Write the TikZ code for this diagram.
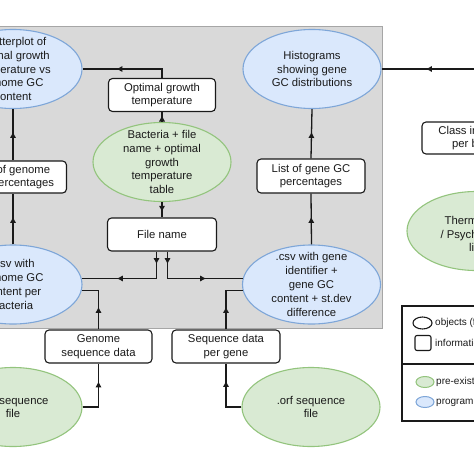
\documentclass[tikz,border=0pt]{standalone}
\usepackage{fontspec}
\setmainfont{Liberation Sans}
\usetikzlibrary{shapes.geometric,decorations.markings,arrows.meta}
\definecolor{bfill}{HTML}{DAE8FC}
\definecolor{bdraw}{HTML}{7EA6D8}
\definecolor{gfill}{HTML}{D9EAD3}
\definecolor{gdraw}{HTML}{93C47D}
\definecolor{grayfill}{HTML}{D9D9D9}
\definecolor{graydraw}{HTML}{A6A6A6}
\definecolor{ink}{HTML}{1A1A1A}
\begin{document}
\begin{tikzpicture}[x=1pt,y=-1pt,
  font=\fontsize{11.3}{13.8}\selectfont,
  ell/.style={ellipse, minimum width=138pt, minimum height=79pt, inner sep=0pt, line width=1.1pt},
  bell/.style={ell, draw=bdraw, fill=bfill},
  gell/.style={ell, draw=gdraw, fill=gfill},
  txt/.style={align=center, text=ink, inner sep=0pt},
  infobox/.style={draw=ink, fill=white, rounded corners=4pt, line width=1.1pt, minimum width=107pt, minimum height=33pt, align=center, text=ink, inner sep=0pt},
  conn/.style={draw=ink, line width=1.3pt},
  tipat/.style={postaction={decorate}, decoration={markings, mark=at position #1 with {\arrow{Triangle[length=5.5pt,width=5.5pt]}}}},
  tiptwo/.style 2 args={postaction={decorate}, decoration={markings,
     mark=at position #1 with {\arrow{Triangle[length=5.5pt,width=5.5pt]}},
     mark=at position #2 with {\arrow{Triangle[length=5.5pt,width=5.5pt]}}}},
  legfont/.style={font=\fontsize{10}{12}\selectfont, text=ink, inner sep=0pt, anchor=west},
]
\useasboundingbox (0,0) rectangle (474,474);
\clip (0,0) rectangle (474,474);

% grey program region
\draw[fill=grayfill, draw=graydraw, line width=0.8pt] (-10,26) rectangle (382,328);

% ellipses
\node[bell] (scatter) at (13,69) {};
\node[txt] (scattert) at (scatter) {Scatterplot of\\optimal growth\\temperature vs\\genome GC\\content};
\node[bell] (hist) at (312,69) {};
\node[txt] (histt) at (hist) {Histograms\\showing gene\\GC distributions};
\node[gell] (bact) at (162,162) {};
\node[txt] (bactt) at (bact) {Bacteria + file\\name + optimal\\growth\\temperature\\table};
\node[bell] (leftcsv) at (13,284.5) {};
\node[txt] (leftcsvt) at (leftcsv) {.csv with\\genome GC\\content per\\bacteria};
\node[bell] (rightcsv) at (311.5,284.5) {};
\node[txt] (rightcsvt) at (rightcsv) {.csv with gene\\identifier +\\gene GC\\content + st.dev\\difference};
\node[gell] (fna) at (13,407) {};
\node[txt] (fnat) at (fna) {.fna sequence\\file};
\node[gell] (orf) at (311,407) {};
\node[txt] (orft) at (orf) {.orf sequence\\file};
\node[gell] (thermo) at (476,231) {};
\node[txt] (thermot) at (476,234) {Thermophile\\/ Psychrophile\\list};

% boxes
\node[infobox] (opt) at (162,95) {Optimal growth\\temperature};
\node[infobox, minimum width=109pt] (file) at (162,234.5) {File name};
\node[infobox, minimum height=32pt] (glist) at (13,177) {List of genome\\GC percentages};
\node[infobox, minimum width=108pt, minimum height=34pt] (genelist) at (311,176) {List of gene GC\\percentages};
\node[infobox] (genome) at (98.5,346.5) {Genome\\sequence data};
\node[infobox, minimum width=108pt] (seqgene) at (226,346.5) {Sequence data\\per gene};
\node[infobox, minimum width=120pt, minimum height=32pt] (class) at (482,138) {Class information\\per bacteria};

% connectors
\draw[conn, tipat=54pt] (opt.north) |- (scatter.east);
\draw[conn, tipat=0.6] (bact.north) -- (opt.south);
\draw[conn, tipat=0.6] (bact.south) -- (file.north);
\draw[conn, tiptwo={12pt}{66pt}] ([xshift=-5.5pt]file.south) |- (leftcsv.5);
\draw[conn, tiptwo={12pt}{65pt}] ([xshift=5.5pt]file.south) |- (rightcsv.175);
\draw[conn, tipat=22pt] (genome.north) |- (leftcsv.-5);
\draw[conn, tipat=41pt] (fna.east) -| (genome.south);
\draw[conn, tipat=22pt] (seqgene.north) |- (rightcsv.185);
\draw[conn, tipat=41pt] (orf.west) -| (seqgene.south);
\draw[conn, tipat=27pt] (rightcsv.north) -- (genelist.south);
\draw[conn, tipat=26pt] (genelist.north) -- (hist.south);
\draw[conn, tipat=27pt] (leftcsv.north) -- (glist.south);
\draw[conn, tipat=28pt] (glist.north) -- (scatter.south);
\draw[conn, tipat=108pt] (class.north) |- (hist.east);

% legend
\draw[draw=ink, line width=1.1pt] (402,306) rectangle (560,421);
\draw[draw=ink, line width=1.1pt] (402,364) -- (560,364);
\node[ellipse, draw=ink, line width=1.1pt, minimum width=19pt, minimum height=12pt, inner sep=0pt] (lgobj) at (422.5,323) {};
\node[legfont] (lgobjt) at (435,323) {objects (files)};
\node[draw=ink, line width=1.1pt, rounded corners=2pt, minimum width=16pt, minimum height=15pt, inner sep=0pt] (lginfo) at (423,343) {};
\node[legfont] (lginfot) at (435,343) {information};
\node[ellipse, draw=gdraw, fill=gfill, line width=1pt, minimum width=18pt, minimum height=11pt, inner sep=0pt] (lgpre) at (425,382) {};
\node[legfont] (lgpret) at (436,382) {pre-existing files};
\node[ellipse, draw=bdraw, fill=bfill, line width=1pt, minimum width=18pt, minimum height=11pt, inner sep=0pt] (lgprog) at (425,402) {};
\node[legfont] (lgprogt) at (436,402) {program generated files};
\end{tikzpicture}
\end{document}
